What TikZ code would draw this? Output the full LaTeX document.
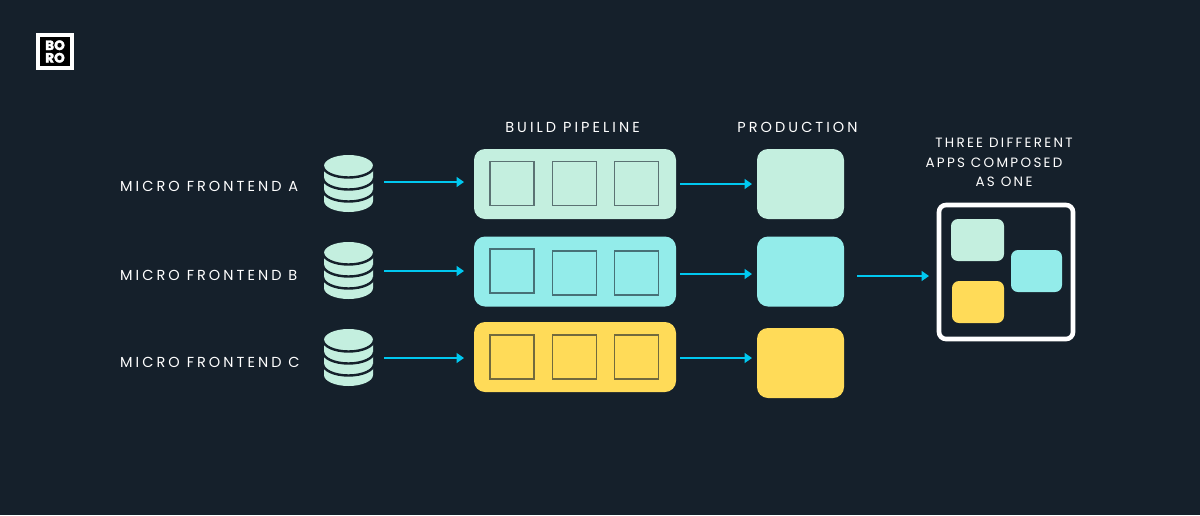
\documentclass[tikz,border=0pt]{standalone}
\usepackage{fontspec}
\setmainfont{Poppins}[LetterSpace=21]
\newfontfamily\sidefont{Poppins}[LetterSpace=17]
\newfontfamily\logofont{Poppins}[BoldFeatures={FakeBold=2.5,LetterSpace=1}]
\usetikzlibrary{arrows.meta}

\definecolor{bgdark}{HTML}{15202B}
\definecolor{mint}{HTML}{C4EFDF}
\definecolor{aqua}{HTML}{93ECEA}
\definecolor{sun}{HTML}{FFDB58}
\definecolor{flowblue}{HTML}{00C8F0}

\tikzset{
  caption/.style={text=white,font=\fontsize{14.5}{15}\selectfont,inner sep=0pt},
  smallcaption/.style={text=white,font=\sidefont\fontsize{13.5}{14}\selectfont,inner sep=0pt},
  pipebox/.style={rounded corners=11pt,minimum width=202pt,minimum height=70pt,inner sep=0pt},
  prodbox/.style={rounded corners=11pt,minimum width=87pt,minimum height=70pt,inner sep=0pt},
  tinybox/.style={rounded corners=7pt,inner sep=0pt},
  stagebox/.style={draw=bgdark,draw opacity=.6,line width=1.3pt,minimum width=44pt,minimum height=44pt,inner sep=0pt},
  flow/.style={-{Triangle[length=7.5pt,width=10pt]},flowblue,line width=1.5pt}
}

\begin{document}
\begin{tikzpicture}[x=1pt,y=-1pt]
\fill [bgdark] (0,0) rectangle (1200,515);
\useasboundingbox (0,0) rectangle (1200,515);

% logo
\node [draw=white,line width=4pt,fill=black,minimum width=34pt,minimum height=33pt,inner sep=0pt] (logo) at (55,51.5) {};
\node [text=white,inner sep=0pt,align=center,font=\logofont\bfseries\fontsize{13.5}{13}\selectfont] (logotext) at (55,51.5) {BO\\[-0.5pt]RO};

% titles
\node [caption] (titlebuild) at (572.5,127.5) {BUILD PIPELINE};
\node [caption] (titleprod) at (797.5,127.5) {PRODUCTION};
\node [smallcaption] (titlethree) at (1004,143) {THREE DIFFERENT};
\node [smallcaption] (titleapps) at (994,162.5) {APPS COMPOSED};
\node [smallcaption] (titleone) at (1004,182) {AS ONE};

\node [caption,anchor=west] (nameA) at (120,186.5) {MICRO FRONTEND A};
\node [caption,anchor=west] (nameB) at (120,275) {MICRO FRONTEND B};
\node [caption,anchor=west] (nameC) at (120,362.5) {MICRO FRONTEND C};

% database stacks
\foreach \n/\ytop in {A/155,B/242,C/329}{
  \fill [mint] (324,\ytop+11) arc [x radius=24.5,y radius=11,start angle=180,end angle=360]
    -- (373,\ytop+46) arc [x radius=24.5,y radius=11,start angle=0,end angle=180] -- cycle;
  \foreach \k in {0,12,24}{
    \draw [bgdark,line width=2.4pt] (323,\ytop+11+\k) arc [x radius=25.5,y radius=11.5,start angle=180,end angle=0];
  }
  \coordinate (db\n) at (348.5,\ytop+28);
}

% pipeline
\node [pipebox,fill=mint] (pipeA) at (575,184) {};
\node [pipebox,fill=aqua] (pipeB) at (575,271.5) {};
\node [pipebox,fill=sun] (pipeC) at (575,357) {};

\node [stagebox] (stageA1) at (512,183.5) {};
\node [stagebox] (stageA2) at (574.5,183.5) {};
\node [stagebox] (stageA3) at (636.5,183.5) {};
\node [stagebox] (stageB1) at (512,271) {};
\node [stagebox] (stageB2) at (574.5,273) {};
\node [stagebox] (stageB3) at (636.5,273) {};
\node [stagebox] (stageC1) at (512,357) {};
\node [stagebox] (stageC2) at (574.5,357) {};
\node [stagebox] (stageC3) at (636.5,357) {};

% production
\node [prodbox,fill=mint] (prodA) at (800.5,184) {};
\node [prodbox,fill=aqua] (prodB) at (800.5,271.5) {};
\node [prodbox,fill=sun] (prodC) at (800.5,363) {};

% composed
\node [draw=white,line width=4.6pt,rounded corners=7pt,minimum width=134pt,minimum height=134pt,inner sep=0pt] (whole) at (1006,272) {};
\node [tinybox,fill=mint,minimum width=53pt,minimum height=42pt] (tinyA) at (977.5,240) {};
\node [tinybox,fill=aqua,minimum width=51pt,minimum height=42pt] (tinyB) at (1036.5,271) {};
\node [tinybox,fill=sun,minimum width=52pt,minimum height=42pt] (tinyC) at (978,302) {};

% arrows
\coordinate (startA) at (384,182);
\coordinate (endA) at (464,182);
\coordinate (startB) at (384,271);
\coordinate (endB) at (464,271);
\coordinate (startC) at (384,358);
\coordinate (endC) at (464,358);
\draw [flow] (startA)--(endA);
\draw [flow] (startB)--(endB);
\draw [flow] (startC)--(endC);

\coordinate (outA) at (680,184);
\coordinate (inA) at (752,184);
\coordinate (outB) at (680,274);
\coordinate (inB) at (752,274);
\coordinate (outC) at (680,358);
\coordinate (inC) at (752,358);
\draw [flow] (outA)--(inA);
\draw [flow] (outB)--(inB);
\draw [flow] (outC)--(inC);

\coordinate (outall) at (857,276);
\coordinate (inall) at (929,276);
\draw [flow] (outall)--(inall);
\end{tikzpicture}
\end{document}
